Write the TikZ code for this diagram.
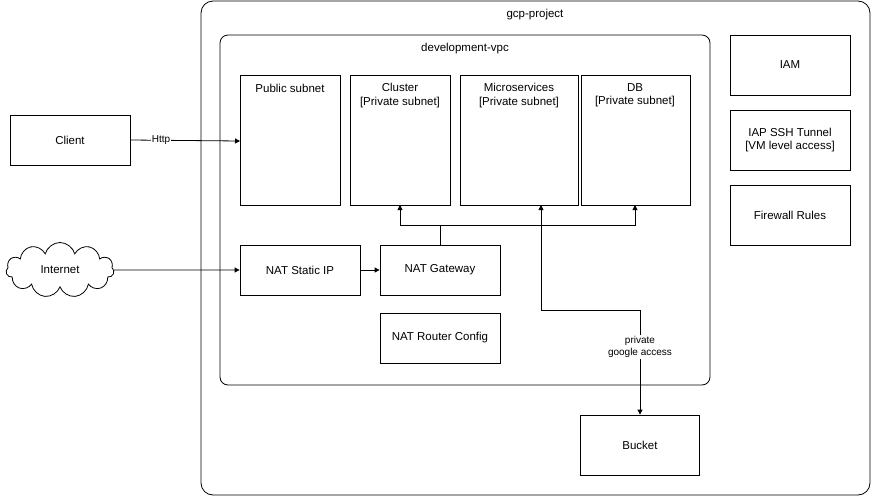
\documentclass[tikz,border=0pt]{standalone}
\usepackage{fontspec}
\setmainfont{Liberation Sans}
\usetikzlibrary{shapes.symbols,arrows.meta}
\begin{document}
\begin{tikzpicture}[x=1pt,y=-1pt,font=\fontsize{11.5}{13.5}\selectfont,
  bx/.style={draw,line width=0.8pt,fill=white},
  ar/.style={draw,line width=0.8pt,-{Triangle[length=5pt,width=5pt]}},
  lbl/.style={align=center,inner sep=1pt}]
\useasboundingbox (0,0) rectangle (871,496);
\draw[line width=0.8pt,rounded corners=12pt] (201,1) rectangle (870,495);
\node (gcp) at (535,15) {gcp-project};
\draw[line width=0.8pt,rounded corners=8pt] (220,35) rectangle (710,385);
\node (vpc) at (465,49) {development-vpc};
\draw[bx] (240,75) rectangle (340,205); \node[lbl] (pub) at (290,88) {Public subnet};
\coordinate (pubL) at (240,141);
\draw[bx] (350,75) rectangle (450,205); \node[lbl,anchor=north] (cl) at (400,82) {Cluster\\{[Private subnet]}};
\draw[bx] (460,75) rectangle (578,205); \node[lbl,anchor=north] (ms) at (519,82) {Microservices\\{[Private subnet]}};
\draw[bx] (581,75) rectangle (690,205); \node[lbl,anchor=north] (db) at (635,82) {DB\\{[Private subnet]}};
\coordinate (clB) at (400,205); \coordinate (msB) at (541,205); \coordinate (dbB) at (635,205);
\node[bx,minimum width=120pt,minimum height=50pt] (client) at (70,140) {Client};
\node[draw,line width=0.8pt,cloud,cloud puffs=11,aspect=2.2,minimum width=108pt,minimum height=55pt,inner sep=0pt] (inet) at (60,270) {Internet};
\node[bx,minimum width=120pt,minimum height=50pt] (nsip) at (300,270) {NAT Static IP};
\node[bx,minimum width=120pt,minimum height=50pt] (ngw) at (440,270) {NAT Gateway};
\node[bx,minimum width=120pt,minimum height=50pt] (nrc) at (440,338) {NAT Router Config};
\node[bx,minimum width=119pt,minimum height=60pt] (bucket) at (640,445) {Bucket};
\node[bx,minimum width=120pt,minimum height=60pt] (iam) at (790,65) {IAM};
\node[bx,minimum width=120pt,minimum height=60pt,align=center] (iap) at (790,140) {IAP SSH Tunnel\\{[VM level access]}};
\node[bx,minimum width=120pt,minimum height=60pt] (fw) at (790,215) {Firewall Rules};
\path[ar] (client.east) -- node[pos=0.28,fill=white,inner sep=1pt,font=\fontsize{10}{12}\selectfont] {Http} (pubL);
\path[ar] (inet.east) -- (nsip.west);
\path[ar] (nsip) -- (ngw);
\draw[line width=0.8pt] (ngw.north) -- (440,225);
\path[ar] (440,225) -| (clB);
\path[ar] (440,225) -| (dbB);
\path[ar] (541,310) -- (msB);
\path[ar] (541,310) -| (bucket.north);
\node[fill=white,lbl,font=\fontsize{10}{12}\selectfont] (pga) at (640,347) {private\\google access};
\end{tikzpicture}
\end{document}
